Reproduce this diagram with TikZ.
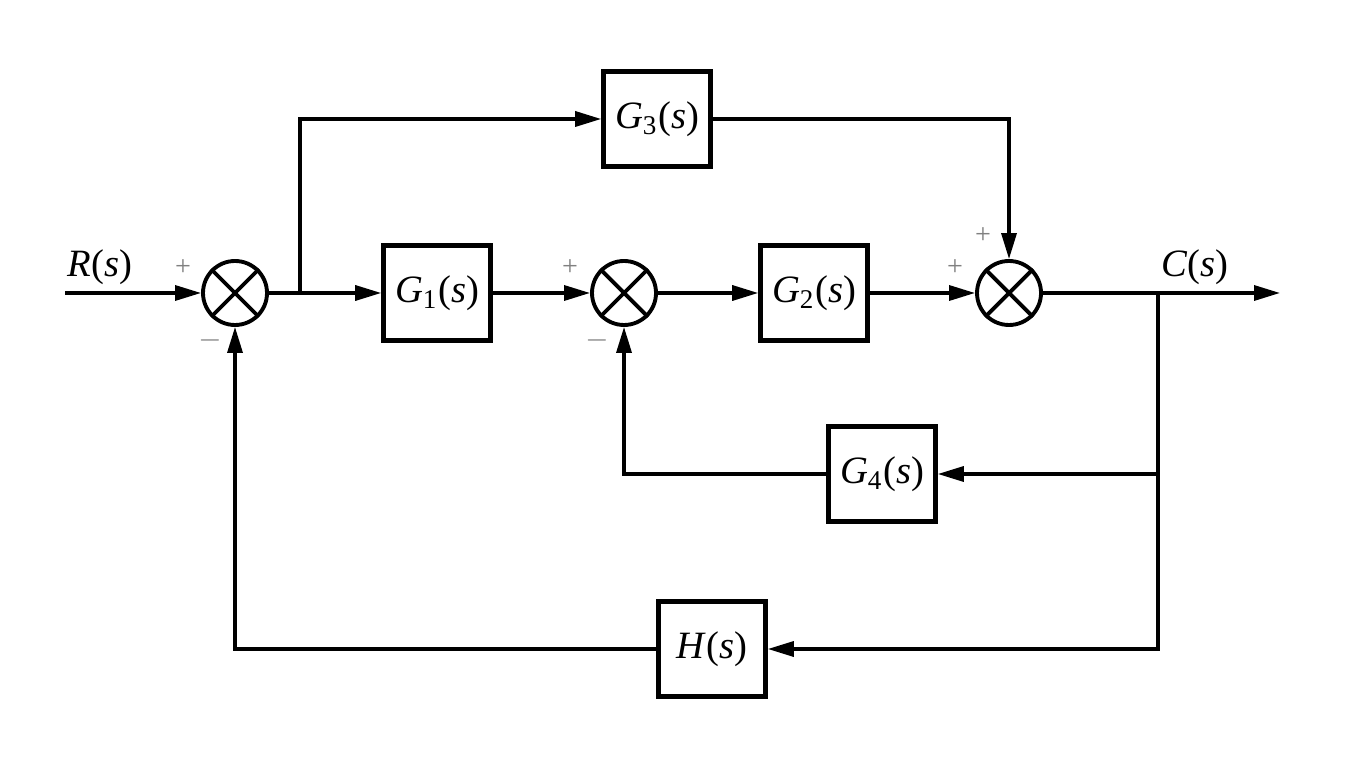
\documentclass[tikz,border=0pt]{standalone}
\usepackage{fontspec}
\setmainfont{Liberation Serif}
\usetikzlibrary{arrows.meta}

\newcommand{\tfun}[2]{\textit{#1}\textsubscript{#2}(\textit{s})}
\newcommand{\sig}[1]{\textit{#1}(\textit{s})}

\tikzset{
  block/.style={draw, line width=1.3pt, minimum width=1.07cm, minimum height=0.95cm,
    inner sep=0pt, font=\fontsize{11}{13}\selectfont},
  sumnode/.style={draw, circle, line width=1.1pt, minimum size=0.64cm, inner sep=0pt},
  sign/.style={text=gray, font=\fontsize{8}{9}\selectfont, inner sep=0pt},
  sigtext/.style={font=\fontsize{11}{13}\selectfont, inner sep=0pt},
  conn/.style={line width=0.95pt, -{Triangle[length=2.6mm,width=1.5mm]}},
}

\begin{document}
\begin{tikzpicture}
    \useasboundingbox (0,0) rectangle (13.58,7.68);

    % blocks
    \node[block] (g1) at (4.37,4.75) {\tfun{G}{1}};
    \node[block] (g2) at (8.14,4.75) {\tfun{G}{2}};
    \node[block] (g3) at (6.57,6.49) {\tfun{G}{3}};
    \node[block] (g4) at (8.82,2.94) {\tfun{G}{4}};
    \node[block] (h)  at (7.12,1.19) {\sig{H}};

    % summing junctions
    \node[sumnode] (s1) at (2.35,4.75) {};
    \node[sumnode] (s2) at (6.24,4.75) {};
    \node[sumnode] (s3) at (10.09,4.75) {};
    \foreach \s in {s1,s2,s3}
        \draw[line width=1.1pt] (\s.north east) -- (\s.south west)
                                (\s.north west) -- (\s.south east);

    % signs
    \node[sign] (p1) at (1.83,5.00) {+};
    \node[sign] (m1) at (2.10,4.28) {$-$};
    \node[sign] (p2) at (5.70,5.00) {+};
    \node[sign] (m2) at (5.97,4.28) {$-$};
    \node[sign] (p3) at (9.55,5.00) {+};
    \node[sign] (p4) at (9.83,5.32) {+};

    % signals
    \node[sigtext] (rs) at (1.00,5.01) {\sig{R}};
    \node[sigtext] (cs) at (11.95,5.01) {\sig{C}};

    \coordinate (in)  at (0.65,4.75);
    \coordinate (b1)  at (3.00,4.75);
    \coordinate (b2)  at (11.58,4.75);
    \coordinate (b3)  at (11.58,2.94);
    \coordinate (out) at (12.80,4.75);

    % connectors
    \draw[conn] (in) -- (s1.west);
    \draw[conn] (s1.east) -- (g1.west);
    \draw[conn] (b1) |- (g3.west);
    \draw[conn] (g1.east) -- (s2.west);
    \draw[conn] (s2.east) -- (g2.west);
    \draw[conn] (g2.east) -- (s3.west);
    \draw[conn] (g3.east) -| (s3.north);
    \draw[conn] (s3.east) -- (out);
    \draw[conn] (b3) -- (g4.east);
    \draw[conn] (b2) |- (h.east);
    \draw[conn] (g4.west) -| (s2.south);
    \draw[conn] (h.west) -| (s1.south);
\end{tikzpicture}
\end{document}
